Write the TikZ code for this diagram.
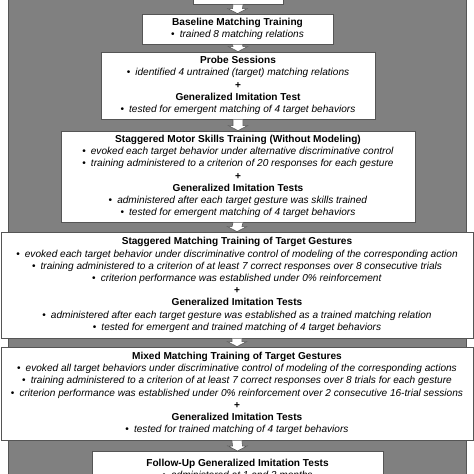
\documentclass[tikz,border=0pt]{standalone}
\usepackage{fontspec}
\setmainfont{Liberation Sans}
\usetikzlibrary{calc}
\definecolor{panelgray}{RGB}{128,128,128}
\definecolor{edgegray}{RGB}{85,85,85}
\newcommand{\bul}{\textbullet\enspace}
\newcommand{\blockarrow}[2]{%
  \draw[flowarrow] ($(#1.south)+(-5,-0.4)$) -- ($(#2.north)+(-5,5)$) -- ($(#2.north)+(-9.5,5)$)
    -- (#2.north) -- ($(#2.north)+(9.5,5)$) -- ($(#2.north)+(5,5)$) -- ($(#1.south)+(5,-0.4)$);}

\begin{document}
\begin{tikzpicture}[x=1pt,y=1pt,
  stagebox/.style={draw=edgegray, line width=0.7pt, fill=white, align=center, inner sep=2pt,
    font=\fontsize{10.1}{12.2}\selectfont},
  flowarrow/.style={draw=edgegray, line width=0.6pt, fill=white}]
\useasboundingbox (0,0) rectangle (474,474);
\filldraw[fill=panelgray, draw=edgegray, line width=0.8pt] (8,-10) rectangle (466,490);
\node[stagebox, minimum width=90, minimum height=20] (start) at (238,480) {};
\node[stagebox, minimum width=191, minimum height=30] (base) at (237.5,445)
  {\textbf{Baseline Matching Training}\\
   \bul\textit{trained 8 matching relations}};
\node[stagebox, minimum width=274, minimum height=67] (probe) at (238,388.5)
  {\textbf{Probe Sessions}\\
   \bul\textit{identified 4 untrained (target) matching relations}\\
   \textbf{+}\\
   \textbf{Generalized Imitation Test}\\
   \bul\textit{tested for emergent matching of 4 target behaviors}};
\node[stagebox, minimum width=354, minimum height=91] (motor) at (238,297.5)
  {\textbf{Staggered Motor Skills Training (Without Modeling)}\\
   \bul\textit{evoked each target behavior under alternative discriminative control}\\
   \bul\textit{training administered to a criterion of 20 responses for each gesture}\\
   \textbf{+}\\
   \textbf{Generalized Imitation Tests}\\
   \bul\textit{administered after each target gesture was skills trained}\\
   \bul\textit{tested for emergent matching of 4 target behaviors}};
\node[stagebox, minimum width=472, minimum height=106] (stagger) at (237,189)
  {\textbf{Staggered Matching Training of Target Gestures}\\
   \bul\textit{evoked each target behavior under discriminative control of modeling of the corresponding action}\\
   \bul\textit{training administered to a criterion of at least 7 correct responses over 8 consecutive trials}\\
   \bul\textit{criterion performance was established under 0\% reinforcement}\\
   \textbf{+}\\
   \textbf{Generalized Imitation Tests}\\
   \bul\textit{administered after each target gesture was established as a trained matching relation}\\
   \bul\textit{tested for emergent and trained matching of 4 target behaviors}};
\node[stagebox, minimum width=472, minimum height=93] (mixed) at (237,80.5)
  {\textbf{Mixed Matching Training of Target Gestures}\\
   \bul\textit{evoked all target behaviors under discriminative control of modeling of the corresponding actions}\\
   \bul\textit{training administered to a criterion of at least 7 correct responses over 8 trials for each gesture}\\
   \bul\textit{criterion performance was established under 0\% reinforcement over 2 consecutive 16-trial sessions}\\
   \textbf{+}\\
   \textbf{Generalized Imitation Tests}\\
   \bul\textit{tested for trained matching of 4 target behaviors}};
\node[stagebox, anchor=north, minimum width=291, inner ysep=7.5pt] (followup) at (237.5,23)
  {\textbf{Follow-Up Generalized Imitation Tests}\\
   \bul\textit{administered at 1 and 3 months}};
\blockarrow{start}{base}
\blockarrow{base}{probe}
\blockarrow{probe}{motor}
\blockarrow{motor}{stagger}
\blockarrow{stagger}{mixed}
\blockarrow{mixed}{followup}
\end{tikzpicture}
\end{document}
